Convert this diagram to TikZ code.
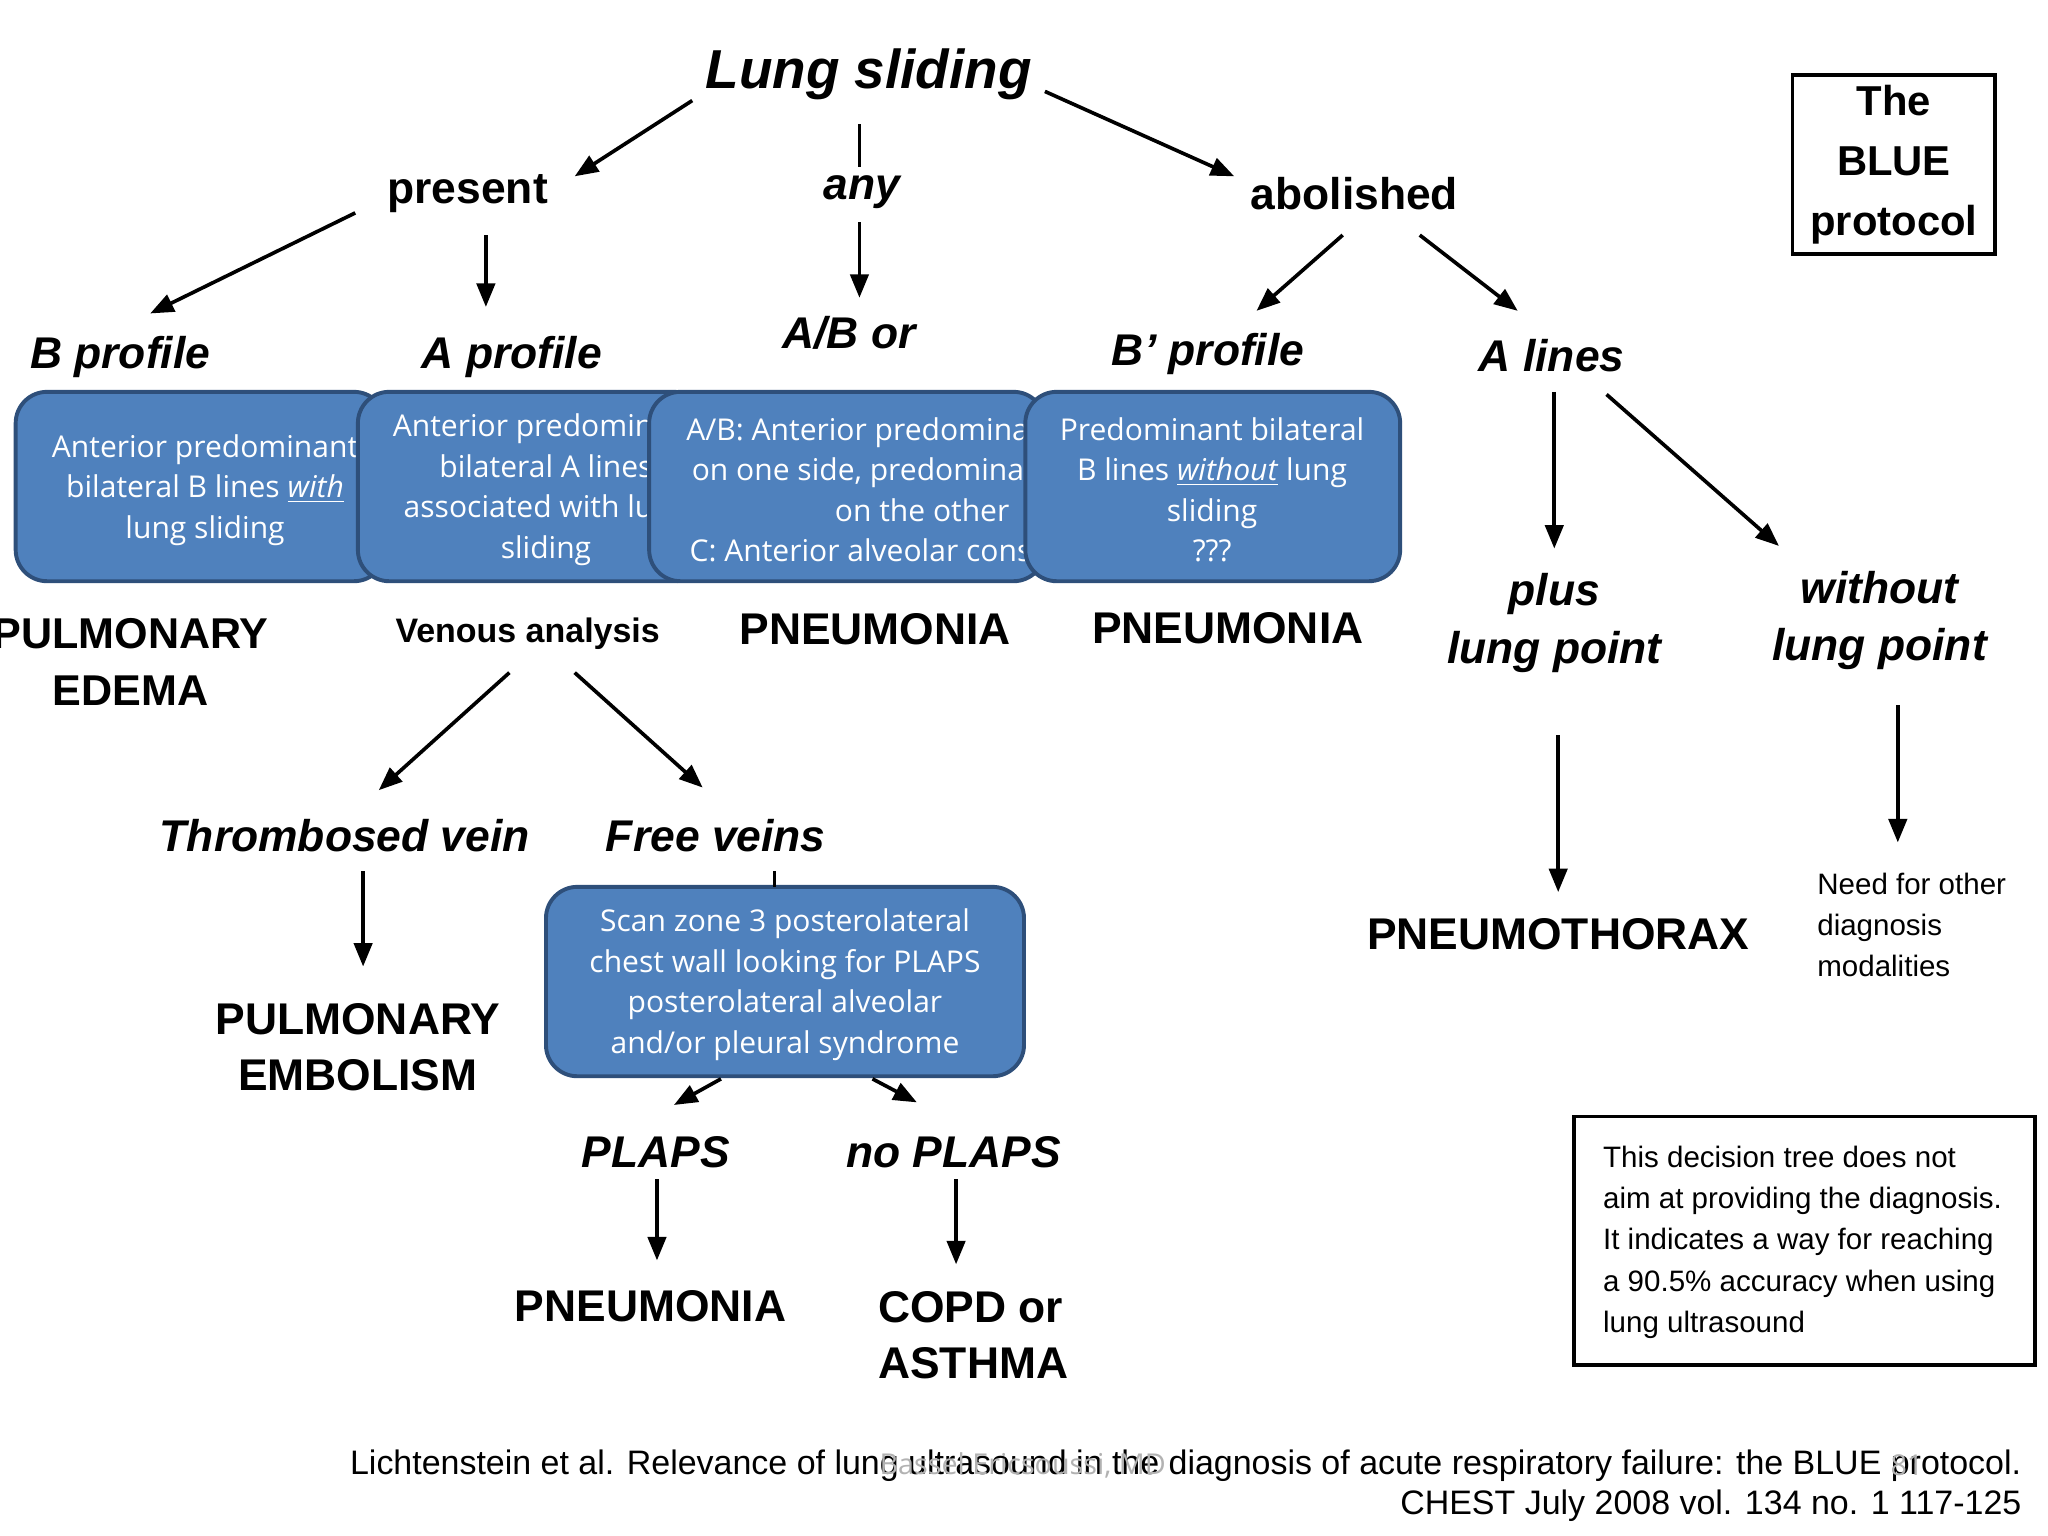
\documentclass[tikz,border=0pt]{standalone}
\usepackage{fontspec}
\setmainfont{Liberation Sans}
\newfontfamily\boxfont{Open Sans}
\usetikzlibrary{arrows.meta}
\definecolor{bfill}{HTML}{4F81BD}
\definecolor{bdraw}{HTML}{2E4F7A}
\begin{document}
\begin{tikzpicture}[x=0.5pt,y=-0.5pt,
  arr/.style={line width=1.4pt,-{Triangle[length=9pt,width=7pt]}},
  ln/.style={line width=1.4pt},
  lab/.style={font=\fontsize{17}{21}\selectfont\bfseries\itshape,inner sep=0},
  up/.style={font=\fontsize{17}{21.5}\selectfont\bfseries,inner sep=0,align=center},
  blue/.style={draw=bdraw,line width=1.5pt,fill=bfill,rounded corners=12pt},
  btxt/.style={font=\boxfont\fontsize{11.5}{15.5}\selectfont,text=white,align=center,inner sep=0},
  small/.style={font=\fontsize{11.3}{15.8}\selectfont,align=left,inner sep=0,anchor=north west}]
\useasboundingbox (0,0) rectangle (1568,1176);
\fill[white] (0,0) rectangle (1568,1176);
% top level
\node[lab,font=\fontsize{21}{24}\selectfont\bfseries\itshape] (ls) at (665,57) {Lung sliding};
\node[up] (pr) at (358,148) {present};
\node[lab] (any) at (660,147) {any};
\node[up] (ab) at (1037,148) {abolished};
\node[draw,line width=1.3pt,minimum width=155pt*0.5,minimum height=137pt*0.5,up,font=\fontsize{16}{23}\selectfont\bfseries] (blue) at (1450,126) {The\\BLUE\\protocol};
% second level labels
\node[lab] (bp) at (92,273) {B profile};
\node[lab] (apf) at (392,273) {A profile};
\node[lab,align=center,font=\fontsize{17}{30}\selectfont\bfseries\itshape] (abc) at (650,288) {A/B or\\C profile};
\node[lab] (bpp) at (925,271) {B' profile};
\node[lab] (al) at (1188,272) {A lines};
% boxes
\draw[blue] (12,300) rectangle (295,445);
\node[btxt] at (157,375) {Anterior predominant\\bilateral B lines \underline{\textit{with}}\\lung sliding};
\draw[blue] (274,300) rectangle (540,445);
\node[btxt] at (418,375) {Anterior predominant\\bilateral A lines\\associated with lung\\sliding};
\draw[blue] (497,300) rectangle (800,445);
\node[btxt] at (706,375) {A/B: Anterior predominant B lines\\on one side, predominant A lines\\on the other\\C: Anterior alveolar consolidation};
\draw[blue] (785,300) rectangle (1072,445);
\node[btxt] at (928,375) {Predominant bilateral\\B lines \underline{\textit{without}} lung\\sliding\\???};
% results row
\node[up,font=\fontsize{16.5}{22}\selectfont\bfseries] (pe) at (100,507) {PULMONARY\\EDEMA};
\node[up,font=\fontsize{13}{16}\selectfont\bfseries] (va) at (404,485) {Venous analysis};
\node[up] (pn1) at (670,482) {PNEUMONIA};
\node[up] (pn2) at (940,481) {PNEUMONIA};
\node[lab,align=center,font=\fontsize{17}{22}\selectfont\bfseries\itshape] (plp) at (1190,477) {plus\\lung point};
\node[lab,align=center,font=\fontsize{17}{22}\selectfont\bfseries\itshape] (wlp) at (1439,475) {without\\lung point};
% lower
\node[lab] (tv) at (264,640) {Thrombosed vein};
\node[lab] (fv) at (548,640) {Free veins};
\node[up] (emb) at (274,802) {PULMONARY\\EMBOLISM};
\node[up] (ptx) at (1193,715) {PNEUMOTHORAX};
\node[small] (need) at (1391,668) {Need for other\\diagnosis\\modalities};
\draw[blue] (418,679) rectangle (784,824);
\node[btxt] (scan) at (601,754) {Scan zone 3 posterolateral\\chest wall looking for PLAPS\\posterolateral alveolar\\and/or pleural syndrome};
\node[lab] (pl) at (502,882) {PLAPS};
\node[lab] (npl) at (730,882) {no PLAPS};
\node[up] (pn3) at (498,1000) {PNEUMONIA};
\node[up,align=left,anchor=west] (copd) at (672,1022) {COPD or\\ASTHMA};
% note
\draw[line width=1.3pt] (1205,855) rectangle (1558,1045);
\node[small] (note) at (1227,877) {This decision tree does not\\aim at providing the diagnosis.\\It indicates a way for reaching\\a 90.5\% accuracy when using\\lung ultrasound};
% citation
\node[inner sep=0,anchor=east,font=\fontsize{13}{15}\selectfont] (c1) at (1548,1122) {Lichtenstein et al. Relevance of lung ultrasound in the diagnosis of acute respiratory failure: the BLUE protocol.};
\node[inner sep=0,anchor=east,font=\fontsize{13}{15}\selectfont] (c2) at (1548,1153) {CHEST July 2008 vol. 134 no. 1 117-125};
\node[inner sep=0,text=gray!60,font=\boxfont\fontsize{11}{13}\selectfont] (wm) at (783,1122) {Bassel Ericsoussi, MD};
\node[inner sep=0,text=gray!60,font=\boxfont\fontsize{11}{13}\selectfont] (pg) at (1460,1122) {81};
% connectors
\coordinate (a1) at (530,77); \coordinate (a2) at (440,135);
\draw[arr] (a1) -- (a2);
\coordinate (b1) at (658,95); \coordinate (b2) at (658,128);
\draw[ln] (b1) -- (b2);
\coordinate (c1a) at (800,70); \coordinate (c2a) at (945,135);
\draw[arr] (c1a) -- (c2a);
\coordinate (d1) at (272,163); \coordinate (d2) at (115,240);
\draw[arr] (d1) -- (d2);
\coordinate (e1) at (372,180); \coordinate (e2) at (372,235);
\draw[arr] (e1) -- (e2);
\coordinate (f1) at (658,170); \coordinate (f2) at (658,228);
\draw[arr] (f1) -- (f2);
\coordinate (g1) at (1028,180); \coordinate (g2) at (962,238);
\draw[arr] (g1) -- (g2);
\coordinate (h1) at (1087,180); \coordinate (h2) at (1162,238);
\draw[arr] (h1) -- (h2);
\coordinate (i1) at (1190,300); \coordinate (i2) at (1190,420);
\draw[arr] (i1) -- (i2);
\coordinate (j1) at (1230,302); \coordinate (j2) at (1362,418);
\draw[arr] (j1) -- (j2);
\coordinate (k1) at (390,515); \coordinate (k2) at (290,605);
\draw[arr] (k1) -- (k2);
\coordinate (l1) at (440,515); \coordinate (l2) at (538,603);
\draw[arr] (l1) -- (l2);
\coordinate (m1) at (278,667); \coordinate (m2) at (278,740);
\draw[arr] (m1) -- (m2);
\coordinate (n1) at (593,667); \coordinate (n2) at (593,679);
\draw[ln] (n1) -- (n2);
\coordinate (o1) at (552,826); \coordinate (o2) at (516,846);
\draw[arr] (o1) -- (o2);
\coordinate (p1) at (668,826); \coordinate (p2) at (702,844);
\draw[arr] (p1) -- (p2);
\coordinate (q1) at (503,903); \coordinate (q2) at (503,965);
\draw[arr] (q1) -- (q2);
\coordinate (r1) at (732,903); \coordinate (r2) at (732,968);
\draw[arr] (r1) -- (r2);
\coordinate (s1) at (1193,563); \coordinate (s2) at (1193,683);
\draw[arr] (s1) -- (s2);
\coordinate (t1) at (1453,540); \coordinate (t2) at (1453,645);
\draw[arr] (t1) -- (t2);
\end{tikzpicture}
\end{document}
